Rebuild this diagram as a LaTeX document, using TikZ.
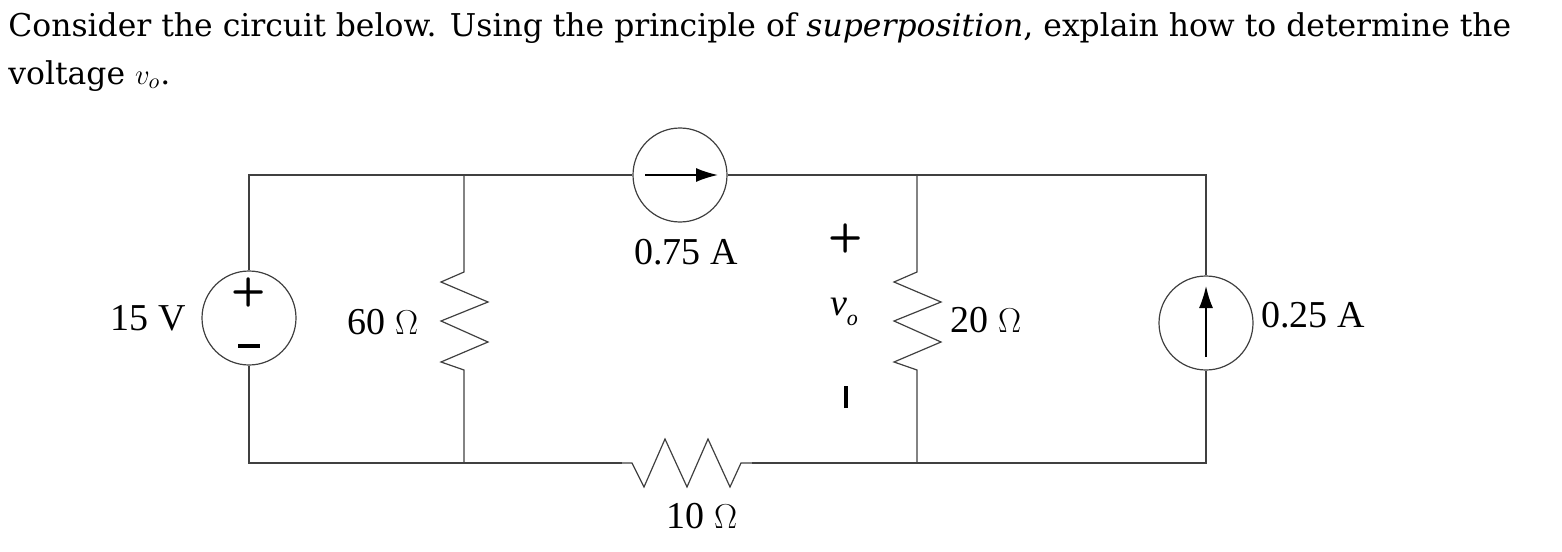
\documentclass[tikz,border=0pt]{standalone}
\usepackage{fontspec}
\setmainfont{Liberation Serif}
\newfontfamily\qfont{DejaVu Serif}
\usetikzlibrary{arrows.meta}
\begin{document}
\begin{tikzpicture}[x=0.5pt,y=-0.5pt,
  wire/.style={draw=black!75,line width=0.6pt},
  src/.style={circle,draw=black!75,line width=0.6pt,minimum size=47pt,inner sep=0pt},
  lbl/.style={font=\fontsize{19}{22}\selectfont,inner sep=0pt},
  sgn/.style={font=\sffamily\bfseries\fontsize{20}{22}\selectfont,inner sep=0pt}]
\useasboundingbox (0,0) rectangle (1562,551);
\node[anchor=north west,align=left,inner sep=0pt,font=\qfont\fontsize{15.7}{24}\selectfont] (q) at (8,12)
 {Consider the circuit below. Using the principle of \textit{superposition}, explain how to determine the\\ voltage $v_o$.};
% sources
\node[src] (vs) at (249,318) {};
\node[src] (is1) at (680,175) {};
\node[src] (is2) at (1206,323) {};
\coordinate (tl) at (249,175); \coordinate (tr) at (1206,175);
\coordinate (bl) at (249,463); \coordinate (br) at (1206,463);
\coordinate (ta) at (464,175); \coordinate (ba) at (464,463);
\coordinate (tb) at (917,175); \coordinate (bb) at (917,463);
\draw[wire] (vs.north) -- (tl) -- (is1.west);
\draw[wire] (is1.east) -- (tr) -- (is2.north);
\draw[wire] (is2.south) -- (br) -- (752,463);
\draw[wire] (vs.south) -- (bl) -- (622,463);
% 60 ohm
\draw[wire] (ta) -- (464,262) -- (464,272) -- (441,282) -- (488,302) -- (441,321) -- (488,342) -- (441,362) -- (464,370) -- (ba);
% 20 ohm
\draw[wire] (tb) -- (917,262) -- (917,272) -- (894,282) -- (941,302) -- (894,321) -- (941,342) -- (894,362) -- (917,370) -- (bb);
% 10 ohm
\draw[wire] (622,463) -- (632,463) -- (644,487) -- (665,439) -- (687,487) -- (708,439) -- (730,487) -- (741,463) -- (752,463);
% arrows
\draw[-{Latex[length=11pt,width=7pt]},line width=0.8pt] (645,175) -- (718,175);
\draw[-{Latex[length=11pt,width=7pt]},line width=0.8pt] (1206,357) -- (1206,286);
% signs
\node[sgn] (p1) at (249,292) {+};
\node[inner sep=0pt] (m1) at (249,346) {\rule{11pt}{2pt}};
\node[sgn] (p2) at (846,238) {+};
\node[inner sep=0pt] (m2) at (846,397) {\rule{2pt}{11pt}};
% labels
\node[lbl] (l1) at (148,318) {15 V};
\node[lbl] (l2) at (383,322) {60 $\Omega$};
\node[lbl] (l3) at (686,252) {0.75 A};
\node[lbl] (l4) at (844,312) {\itshape v\raisebox{-5pt}{\fontsize{11}{12}\selectfont o}};
\node[lbl] (l5) at (986,320) {20 $\Omega$};
\node[lbl] (l6) at (1313,315) {0.25 A};
\node[lbl] (l7) at (702,516) {10 $\Omega$};
\end{tikzpicture}
\end{document}
